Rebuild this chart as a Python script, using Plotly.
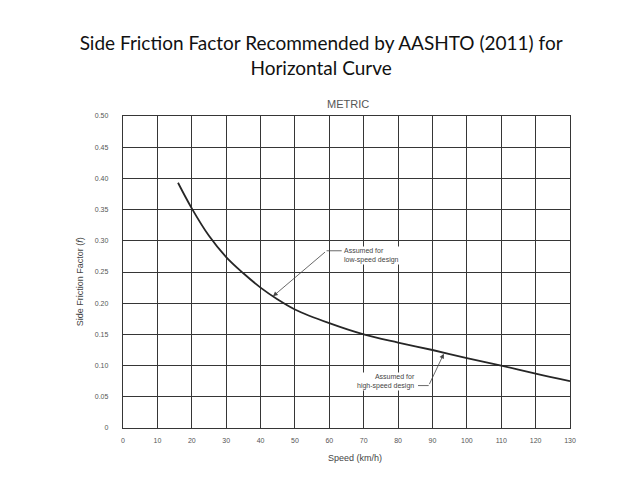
import plotly.graph_objects as go

# Data
speed_kmh = [16, 20, 25, 30, 35, 40, 45, 50, 60, 70, 80, 90, 100, 110, 120, 130]
side_friction = [0.393, 0.352, 0.308, 0.274, 0.248, 0.225, 0.206, 0.190, 0.168, 0.150,
                 0.137, 0.125, 0.112, 0.100, 0.087, 0.075]

x_tick_vals = [0, 10, 20, 30, 40, 50, 60, 70, 80, 90, 100, 110, 120, 130]
y_tick_vals = [0, 0.05, 0.10, 0.15, 0.20, 0.25, 0.30, 0.35, 0.40, 0.45, 0.50]
y_tick_text = ["0", "0.05", "0.10", "0.15", "0.20", "0.25", "0.30", "0.35", "0.40", "0.45", "0.50"]

title_text = "Side Friction Factor Recommended by AASHTO (2011) for<br>Horizontal Curve"
low_label = "Assumed for<br>low-speed design"
high_label = "Assumed for<br>high-speed design"

grid_color = "#363636"
label_font = dict(family="Liberation Sans, Arial, sans-serif", size=7, color="#555555")

fig = go.Figure()
fig.add_trace(go.Scatter(
    x=speed_kmh, y=side_friction, mode="lines",
    line=dict(color="#262626", width=1.8, shape="spline", smoothing=1.0),
    hoverinfo="skip", showlegend=False,
))

fig.update_layout(
    width=630, height=470,
    margin=dict(l=115, r=68, t=108, b=50),
    paper_bgcolor="white", plot_bgcolor="white",
    title=dict(text=title_text, x=0.497, xanchor="center", y=0.9096, yanchor="middle",
               font=dict(family="Lato, Carlito, sans-serif", size=19, color="#111111")),
    xaxis=dict(range=[0, 130], tickvals=x_tick_vals, showgrid=True, gridcolor=grid_color,
               gridwidth=1.2, showline=True, linecolor=grid_color, linewidth=1.4, mirror=True,
               zeroline=False, ticks="", tickfont=label_font, ticklabelstandoff=5,
               fixedrange=True),
    yaxis=dict(range=[0, 0.5], tickvals=y_tick_vals, ticktext=y_tick_text, showgrid=True,
               gridcolor=grid_color, gridwidth=1.2, showline=True, linecolor=grid_color,
               linewidth=1.4, mirror=True, zeroline=False, ticks="", tickfont=label_font,
               ticklabelstandoff=12, fixedrange=True),
)

ann_font = dict(family="Liberation Sans, Arial, sans-serif", size=7, color="#444444")
axis_title_font = dict(family="Liberation Sans, Arial, sans-serif", size=9, color="#444444")

fig.add_annotation(text="METRIC", xref="paper", yref="paper", x=0.503, y=1.064,
                   showarrow=False, font=dict(family="Liberation Sans, Arial, sans-serif",
                                              size=11, color="#555555"))
fig.add_annotation(text="Speed (km/h)", xref="paper", yref="paper", x=0.52, y=-0.12,
                   showarrow=False, font=axis_title_font)
fig.add_annotation(text="Side Friction Factor (<i>f</i>)", xref="paper", yref="paper",
                   x=-0.11, y=0.47, textangle=-90, showarrow=False, font=axis_title_font)

# Callout labels
fig.add_annotation(text=low_label, x=64, y=0.276, xanchor="left", yanchor="middle",
                   align="left", showarrow=False, font=ann_font, bgcolor="white",
                   borderpad=0)
fig.add_annotation(text=high_label, x=85.3, y=0.0744, xanchor="right", yanchor="middle",
                   align="right", showarrow=False, font=ann_font, bgcolor="white",
                   borderpad=0)

# Leader arrows
fig.add_annotation(x=43.6, y=0.211, ax=59.2, ay=0.284, axref="x", ayref="y", text="",
                   showarrow=True, arrowhead=2, arrowsize=1.2, arrowwidth=0.8,
                   arrowcolor="#444444")
fig.add_annotation(x=93.3, y=0.119, ax=88.9, ay=0.068, axref="x", ayref="y", text="",
                   showarrow=True, arrowhead=2, arrowsize=1.2, arrowwidth=0.8,
                   arrowcolor="#444444")
fig.add_shape(type="line", x0=59.2, y0=0.284, x1=63.6, y1=0.284,
              line=dict(color="#444444", width=0.8))
fig.add_shape(type="line", x0=85.8, y0=0.068, x1=88.9, y1=0.068,
              line=dict(color="#444444", width=0.8))

fig.write_html("out.html")
